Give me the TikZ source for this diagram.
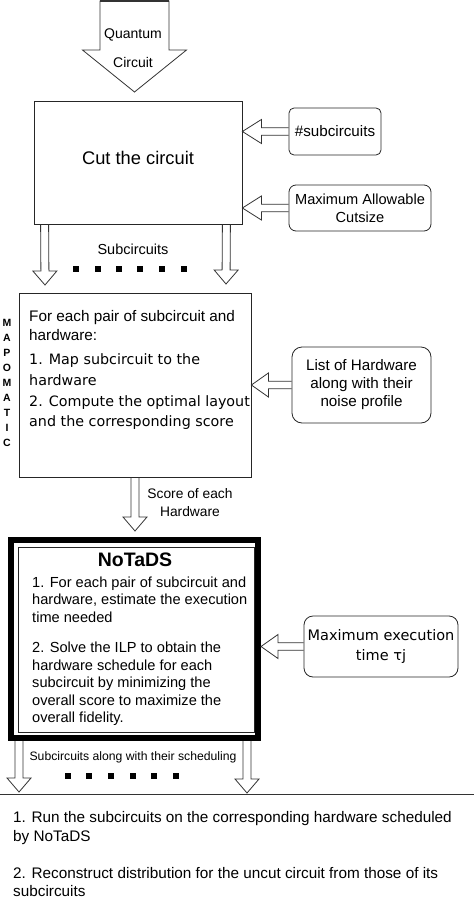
\documentclass[tikz,border=0pt]{standalone}
\usepackage{fontspec}
\setmainfont{Liberation Sans}
\newfontfamily\dvfont{DejaVu Sans}
\usetikzlibrary{calc}
\newcommand{\fs}[2]{\fontsize{#1}{#2}\selectfont}
% hollow block arrow from #1 to #2: shaft half width #3, head half width #4, head length #5
\newcommand{\barrow}[5]{%
  \path ($(#2)!#5!(#1)$) coordinate (hb);
  \draw[blk] ($(#1)!#3!90:(#2)$) -- ($(hb)!#3!90:(#2)$) -- ($(hb)!#4!90:(#2)$) -- (#2)
     -- ($(hb)!#4!-90:(#2)$) -- ($(hb)!#3!-90:(#2)$) -- ($(#1)!#3!-90:(#2)$);
}
\newcommand{\barrowclosed}[5]{%
  \path ($(#2)!#5!(#1)$) coordinate (hb);
  \draw[blk] ($(#1)!#3!90:(#2)$) -- ($(hb)!#3!90:(#2)$) -- ($(hb)!#4!90:(#2)$) -- (#2)
     -- ($(hb)!#4!-90:(#2)$) -- ($(hb)!#3!-90:(#2)$) -- ($(#1)!#3!-90:(#2)$) -- cycle;
}
\begin{document}
\begin{tikzpicture}[x=1pt,y=-1pt,
  box/.style={draw=black!85, line width=0.8pt, inner sep=0pt},
  rbox/.style={box, rounded corners=7pt, align=center},
  blk/.style={draw=black!80, line width=0.8pt, line join=miter},
  txt/.style={inner sep=0pt, align=center},
  ltxt/.style={inner sep=0pt, align=left, anchor=west}]
\useasboundingbox (0,0) rectangle (474,899);

% ---- Quantum circuit input arrow
\coordinate (qtail) at (134.5,1);
\coordinate (qtip) at (134.5,92);
\barrowclosed{qtail}{qtip}{34.5pt}{52pt}{42pt}
\draw[black!80, line width=1.6pt] ($(qtail)+(-34.5,0)$) -- ($(qtail)+(34.5,0)$);
\node[txt, font=\fs{14}{29}] (qlabel) at (133,48.5) {Quantum\\Circuit};

% ---- Cut the circuit
\node[box, minimum width=208pt, minimum height=123pt] (cut) at (138,162.5) {};
\node[txt, font=\fs{18.3}{22}] (cutlbl) at (138,158) {Cut the circuit};

\node[rbox, rounded corners=5pt, minimum width=92pt, minimum height=47pt, font=\fs{15.2}{18}] (nsub) at (335,131.5) {\#subcircuits};
\node[rbox, minimum width=142pt, minimum height=46pt, font=\fs{14.6}{18}] (maxcut) at (360,208) {Maximum Allowable\\Cutsize};

\barrow{nsub.west}{cut.east |- nsub.west}{3.8pt}{12pt}{19pt}
\barrow{maxcut.west}{cut.east |- maxcut.west}{3.8pt}{12pt}{19pt}

% ---- subcircuits arrows
\coordinate (c1a) at ($(cut.south west)+(11,0)$);
\coordinate (c1b) at (45,285);
\coordinate (c2a) at ($(cut.south east)+(-16,0)$);
\coordinate (c2b) at (226,284);
\barrow{c1a}{c1b}{4pt}{12pt}{14pt}
\barrow{c2a}{c2b}{4pt}{12pt}{14pt}
\node[txt, font=\fs{14.5}{18}] (sublbl) at (133,249) {Subcircuits};
\foreach \xx in {76,98,119,140,162,184} \fill (\xx-2.6,266.4) rectangle (\xx+2.6,271.6);

% ---- MAPOMATIC box
\node[box, minimum width=232pt, minimum height=184pt] (map) at (135,385) {};
\node[txt, font=\bfseries\fs{10.5}{15}] (mlabel) at (7,383) {M\\A\\P\\O\\M\\A\\T\\I\\C};
\node[ltxt, font=\fs{15.3}{19}] (mtext1) at (29,325.5) {For each pair of subcircuit and\\hardware:};
\node[ltxt, font=\dvfont\fs{14.3}{20.7}] (mtext2) at (29,392) {1. Map subcircuit to the\\hardware\\2. Compute the optimal layout\\and the corresponding score};

\node[rbox, rounded corners=10pt, minimum width=139pt, minimum height=76pt, font=\fs{15.2}{18}] (hw) at (361.5,385) {List of Hardware\\along with their\\noise profile};
\barrow{hw.west}{map.east |- hw.west}{3.8pt}{12pt}{17pt}

% ---- score arrow
\coordinate (sb) at (135,531);
\barrow{map.south}{sb}{4pt}{12pt}{14pt}
\node[txt, font=\fs{13.8}{18}] (scorelbl) at (190,503) {Score of each\\Hardware};

% ---- NoTaDS
\node[draw=black, line width=6pt, inner sep=0pt, minimum width=247pt, minimum height=198pt] (notads) at (134.5,639) {};
\node[box, minimum width=236pt, minimum height=185pt] (notadsin) at (136,639.5) {};
\node[txt, font=\bfseries\fs{19.5}{22}] (ntitle) at (135,560) {NoTaDS};
\node[ltxt, font=\fs{14.6}{17.5}] (ntext1) at (32,599.5) {1. For each pair of subcircuit and\\hardware, estimate the execution\\time needed};
\node[ltxt, font=\fs{14.6}{17.5}] (ntext2) at (32,684) {2. Solve the ILP to obtain the\\hardware schedule for each\\subcircuit by minimizing the\\overall score to maximize the\\overall fidelity.};

\node[rbox, rounded corners=9pt, minimum width=154pt, minimum height=61pt, font=\dvfont\fs{14.5}{20}] (exec) at (381,646.5) {Maximum execution\\time τj};
\barrow{exec.west}{notads.east |- exec.west}{3.8pt}{12pt}{17pt}

% ---- scheduling arrows
\coordinate (d1a) at ($(notads.south west)+(11,0)$);
\coordinate (d1b) at (19,792);
\coordinate (d2a) at ($(notads.south west)+(239,0)$);
\coordinate (d2b) at (247,793);
\barrow{d1a}{d1b}{4pt}{12pt}{14pt}
\barrow{d2a}{d2b}{4pt}{12pt}{14pt}
\node[txt, font=\fs{12.2}{15}] (schedlbl) at (133,757) {Subcircuits along with their scheduling};
\foreach \xx in {68,89,111,133,154,176} \fill (\xx-2.6,773.4) rectangle (\xx+2.6,778.6);

% ---- bottom section
\coordinate (hl) at (0,794);
\coordinate (hr) at (474,794);
\draw[black!80, line width=0.8pt] (hl) -- (hr);
\node[ltxt, font=\fs{15.3}{19}] (btext1) at (13,828.5) {1. Run the subcircuits on the corresponding hardware scheduled\\by NoTaDS};
\node[ltxt, font=\fs{15.3}{18.5}] (btext2) at (13,882) {2. Reconstruct distribution for the uncut circuit from those of its\\subcircuits};
\end{tikzpicture}
\end{document}
